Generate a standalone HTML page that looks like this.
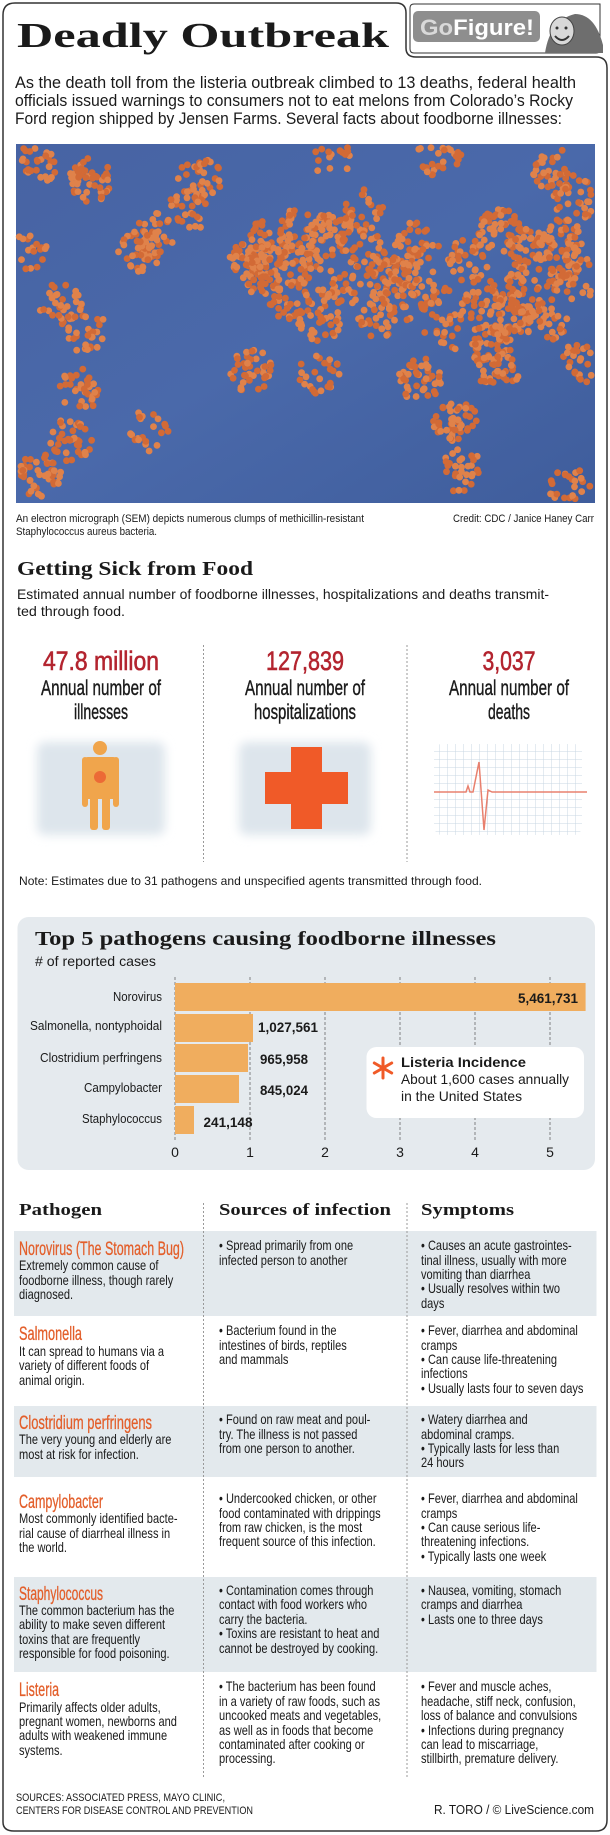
<!DOCTYPE html>
<html><head><meta charset="utf-8"><style>
html,body{margin:0;padding:0;background:#fff}
svg{display:block}
text{font-family:"Liberation Sans",sans-serif;fill:#1a1a1a}
.sf{font-family:"Liberation Serif",serif;font-weight:bold}
.or{fill:#e35f2b}
.red{fill:#b3242f}
</style></head><body>
<svg id="s" width="610" height="1835" viewBox="0 0 610 1835" xmlns="http://www.w3.org/2000/svg">
<defs>
<filter id="bl" x="-20%" y="-20%" width="140%" height="140%"><feGaussianBlur stdDeviation="5"/></filter>
<linearGradient id="ph" x1="0" y1="0" x2="1" y2="1"><stop offset="0" stop-color="#4763a3"/><stop offset="0.5" stop-color="#4a69aa"/><stop offset="1" stop-color="#3f5d9c"/></linearGradient>
<pattern id="grid" width="8" height="8" patternUnits="userSpaceOnUse"><path d="M8 0V8M0 8H8" stroke="#c9d7e3" stroke-width="1" fill="none"/></pattern>
</defs>
<path d="M3,1822 V15 Q3,3 15,3 H396 Q406,3 406,13 V48 Q406,57 416,57 H596 Q607,57 607,68 V1820 Q607,1831 596,1831 H14 Q3,1831 3,1822 Z" fill="#fff" stroke="#333" stroke-width="1.5"/>
<path d="M410,8 Q410,4 414,4 H600 L600,50 Q600,53 596,53 H414 Q410,53 410,49 Z" fill="#fff" stroke="#333" stroke-width="1"/>
<rect x="413" y="11" width="127" height="31" rx="5" fill="#8e8e8e"/>
<text x="420" y="35" font-size="22" font-weight="bold" style="fill:#fff" textLength="114" lengthAdjust="spacingAndGlyphs"><tspan style="fill:#d9d9d9">Go</tspan>Figure!</text>
<path d="M545,53 Q550,20 575,14 Q595,14 603,45 L603,53 Z" fill="#6e6e6e"/>
<ellipse cx="562" cy="31" rx="12" ry="14" fill="#d8d8d8" stroke="#444"/>
<path d="M555,36 Q562,44 569,36" stroke="#333" fill="none" stroke-width="2"/>
<circle cx="557" cy="28" r="1.5" fill="#333"/><circle cx="566" cy="28" r="1.5" fill="#333"/>
<text class="sf" x="17" y="47" font-size="35" textLength="372" lengthAdjust="spacingAndGlyphs" style="font-weight:900">Deadly Outbreak</text>
<g font-size="17">
<text x="15" y="88" textLength="561" lengthAdjust="spacingAndGlyphs">As the death toll from the listeria outbreak climbed to 13 deaths, federal health</text>
<text x="15" y="106" textLength="558" lengthAdjust="spacingAndGlyphs">officials issued warnings to consumers not to eat melons from Colorado’s Rocky</text>
<text x="15" y="124" textLength="547" lengthAdjust="spacingAndGlyphs">Ford region shipped by Jensen Farms. Several facts about foodborne illnesses:</text>
</g>
<rect x="16" y="144" width="579" height="359" fill="url(#ph)"/>
<g id="cells"></g>
<g font-size="11">
<text x="16" y="522" textLength="348" lengthAdjust="spacingAndGlyphs">An electron micrograph (SEM) depicts numerous clumps of methicillin-resistant</text>
<text x="16" y="535" textLength="141" lengthAdjust="spacingAndGlyphs">Staphylococcus aureus bacteria.</text>
<text x="594" y="522" text-anchor="end" textLength="141" lengthAdjust="spacingAndGlyphs">Credit: CDC / Janice Haney Carr</text>
</g>
<text class="sf" x="17" y="575" font-size="20" textLength="236" lengthAdjust="spacingAndGlyphs">Getting Sick from Food</text>
<text x="17" y="599" font-size="14" textLength="532" lengthAdjust="spacingAndGlyphs">Estimated annual number of foodborne illnesses, hospitalizations and deaths transmit-</text>
<text x="17" y="616" font-size="14" textLength="108" lengthAdjust="spacingAndGlyphs">ted through food.</text>
<line x1="203.5" y1="645" x2="203.5" y2="862" stroke="#999" stroke-dasharray="2,2"/>
<line x1="407" y1="645" x2="407" y2="862" stroke="#999" stroke-dasharray="2,2"/>
<g font-size="27" text-anchor="middle" style="stroke:#b3242f;stroke-width:0.6">
<text class="red" x="101" y="670" textLength="116" lengthAdjust="spacingAndGlyphs">47.8 million</text>
<text class="red" x="305" y="670" textLength="78" lengthAdjust="spacingAndGlyphs">127,839</text>
<text class="red" x="509" y="670" textLength="53" lengthAdjust="spacingAndGlyphs">3,037</text>
</g>
<g font-size="21" text-anchor="middle" style="stroke:#1a1a1a;stroke-width:0.4">
<text x="101" y="695" textLength="120" lengthAdjust="spacingAndGlyphs">Annual number of</text>
<text x="101" y="719" textLength="54" lengthAdjust="spacingAndGlyphs">illnesses</text>
<text x="305" y="695" textLength="120" lengthAdjust="spacingAndGlyphs">Annual number of</text>
<text x="305" y="719" textLength="102" lengthAdjust="spacingAndGlyphs">hospitalizations</text>
<text x="509" y="695" textLength="120" lengthAdjust="spacingAndGlyphs">Annual number of</text>
<text x="509" y="719" textLength="42" lengthAdjust="spacingAndGlyphs">deaths</text>
</g>
<rect x="37" y="742" width="128" height="93" rx="8" fill="#dde5ec" filter="url(#bl)"/>
<rect x="239" y="742" width="132" height="93" rx="8" fill="#dde5ec" filter="url(#bl)"/>
<rect x="434" y="744" width="148" height="91" rx="8" fill="url(#grid)"/>
<g fill="#f0a54c">
<circle cx="100" cy="748" r="7"/>
<rect x="82" y="757" width="37" height="42" rx="6"/>
<rect x="82" y="757" width="6" height="50" rx="3"/>
<rect x="113" y="757" width="6" height="50" rx="3"/>
<rect x="90" y="790" width="8" height="40" rx="3"/>
<rect x="102" y="790" width="8" height="40" rx="3"/>
</g>
<circle cx="100" cy="777" r="6" fill="#ec6a36"/>
<rect x="291" y="747" width="31" height="82" fill="#f05a28"/>
<rect x="265" y="772" width="83" height="32" fill="#f05a28"/>
<polyline points="434,792 466,792 468,786 470,792 473,792 479,762 484,830 488,790 492,792 587,792" fill="none" stroke="#e8806e" stroke-width="1.5"/>
<text x="19" y="885" font-size="12" textLength="463" lengthAdjust="spacingAndGlyphs">Note: Estimates due to 31 pathogens and unspecified agents transmitted through food.</text>
<rect x="17.5" y="917" width="577.5" height="253" rx="11" fill="#e5eaee"/>
<text class="sf" x="35" y="945" font-size="20" textLength="461" lengthAdjust="spacingAndGlyphs">Top 5 pathogens causing foodborne illnesses</text>
<text x="35" y="966" font-size="14" textLength="121" lengthAdjust="spacingAndGlyphs"># of reported cases</text>
<g stroke="#666" stroke-dasharray="3,2" stroke-width="0.8">
<line x1="175" y1="977" x2="175" y2="1140"/><line x1="250" y1="977" x2="250" y2="1140"/><line x1="325" y1="977" x2="325" y2="1140"/><line x1="400" y1="977" x2="400" y2="1140"/><line x1="475" y1="977" x2="475" y2="1140"/><line x1="550" y1="977" x2="550" y2="1140"/>
</g>
<g fill="#f0ad5e">
<rect x="175" y="983" width="410.6" height="28"/>
<rect x="175" y="1014" width="78" height="28"/>
<rect x="175" y="1044" width="73" height="28"/>
<rect x="175" y="1075" width="64" height="28"/>
<rect x="175" y="1106" width="19" height="28"/>
</g>
<g font-size="13" text-anchor="end">
<text x="162" y="1001" textLength="49" lengthAdjust="spacingAndGlyphs">Norovirus</text>
<text x="162" y="1030" textLength="132" lengthAdjust="spacingAndGlyphs">Salmonella, nontyphoidal</text>
<text x="162" y="1062" textLength="122" lengthAdjust="spacingAndGlyphs">Clostridium perfringens</text>
<text x="162" y="1092" textLength="78" lengthAdjust="spacingAndGlyphs">Campylobacter</text>
<text x="162" y="1123" textLength="80" lengthAdjust="spacingAndGlyphs">Staphylococcus</text>
</g>
<g font-size="14" font-weight="bold">
<text x="578" y="1003" text-anchor="end" textLength="60" lengthAdjust="spacingAndGlyphs">5,461,731</text>
<text x="258" y="1032" textLength="60" lengthAdjust="spacingAndGlyphs">1,027,561</text>
<text x="260" y="1064" textLength="48" lengthAdjust="spacingAndGlyphs">965,958</text>
<text x="260" y="1095" textLength="48" lengthAdjust="spacingAndGlyphs">845,024</text>
<text x="203.5" y="1127" textLength="49" lengthAdjust="spacingAndGlyphs">241,148</text>
</g>
<g font-size="14" text-anchor="middle">
<text x="175" y="1157">0</text><text x="250" y="1157">1</text><text x="325" y="1157">2</text><text x="400" y="1157">3</text><text x="475" y="1157">4</text><text x="550" y="1157">5</text>
</g>
<rect x="366.5" y="1047" width="217.5" height="71" rx="10" fill="#fff"/>
<g stroke="#f05a28" stroke-width="3" stroke-linecap="round">
<line x1="383" y1="1058" x2="383" y2="1078"/><line x1="374.3" y1="1063" x2="391.7" y2="1073"/><line x1="374.3" y1="1073" x2="391.7" y2="1063"/>
</g>
<text x="401" y="1067" font-size="14" font-weight="bold" textLength="125" lengthAdjust="spacingAndGlyphs">Listeria Incidence</text>
<text x="401" y="1084" font-size="14" textLength="168" lengthAdjust="spacingAndGlyphs">About 1,600 cases annually</text>
<text x="401" y="1101" font-size="14" textLength="121" lengthAdjust="spacingAndGlyphs">in the United States</text>
<g fill="#e3e9ed">
<rect x="14" y="1231" width="582.5" height="85"/>
<rect x="14" y="1406" width="582.5" height="71"/>
<rect x="14" y="1577" width="582.5" height="95"/>
</g>
<line x1="203.5" y1="1203" x2="203.5" y2="1777" stroke="#999" stroke-dasharray="2,2"/>
<line x1="407" y1="1203" x2="407" y2="1777" stroke="#999" stroke-dasharray="2,2"/>
<g font-size="17">
<text class="sf" x="19" y="1215" textLength="83" lengthAdjust="spacingAndGlyphs">Pathogen</text>
<text class="sf" x="219" y="1215" textLength="172" lengthAdjust="spacingAndGlyphs">Sources of infection</text>
<text class="sf" x="421" y="1215" textLength="93" lengthAdjust="spacingAndGlyphs">Symptoms</text>
</g>
<g font-size="19" style="stroke:#e35f2b;stroke-width:0.3">
<text class="or" x="19" y="1255" textLength="165" lengthAdjust="spacingAndGlyphs">Norovirus (The Stomach Bug)</text>
<text class="or" x="19" y="1340" textLength="63" lengthAdjust="spacingAndGlyphs">Salmonella</text>
<text class="or" x="19" y="1429" textLength="133" lengthAdjust="spacingAndGlyphs">Clostridium perfringens</text>
<text class="or" x="19" y="1508" textLength="84" lengthAdjust="spacingAndGlyphs">Campylobacter</text>
<text class="or" x="19" y="1600" textLength="84" lengthAdjust="spacingAndGlyphs">Staphylococcus</text>
<text class="or" x="19" y="1696" textLength="40" lengthAdjust="spacingAndGlyphs">Listeria</text>
</g>
<g font-size="13.5">
<g transform="translate(19,0) scale(0.82,1)">
<text x="0" y="1270">Extremely common cause of</text>
<text x="0" y="1285">foodborne illness, though rarely</text>
<text x="0" y="1299">diagnosed.</text>
<text x="0" y="1356">It can spread to humans via a</text>
<text x="0" y="1370">variety of different foods of</text>
<text x="0" y="1385">animal origin.</text>
<text x="0" y="1444">The very young and elderly are</text>
<text x="0" y="1459">most at risk for infection.</text>
<text x="0" y="1523">Most commonly identified bacte-</text>
<text x="0" y="1538">rial cause of diarrheal illness in</text>
<text x="0" y="1552">the world.</text>
<text x="0" y="1615">The common bacterium has the</text>
<text x="0" y="1629">ability to make seven different</text>
<text x="0" y="1644">toxins that are frequently</text>
<text x="0" y="1658">responsible for food poisoning.</text>
<text x="0" y="1712">Primarily affects older adults,</text>
<text x="0" y="1726">pregnant women, newborns and</text>
<text x="0" y="1740">adults with weakened immune</text>
<text x="0" y="1755">systems.</text>
</g>
<g transform="translate(219,0) scale(0.82,1)">
<text x="0" y="1250">• Spread primarily from one</text>
<text x="0" y="1265">infected person to another</text>
<text x="0" y="1335">• Bacterium found in the</text>
<text x="0" y="1350">intestines of birds, reptiles</text>
<text x="0" y="1364">and mammals</text>
<text x="0" y="1424">• Found on raw meat and poul-</text>
<text x="0" y="1439">try. The illness is not passed</text>
<text x="0" y="1453">from one person to another.</text>
<text x="0" y="1503">• Undercooked chicken, or other</text>
<text x="0" y="1518">food contaminated with drippings</text>
<text x="0" y="1532">from raw chicken, is the most</text>
<text x="0" y="1546">frequent source of this infection.</text>
<text x="0" y="1595">• Contamination comes through</text>
<text x="0" y="1609">contact with food workers who</text>
<text x="0" y="1624">carry the bacteria.</text>
<text x="0" y="1638">• Toxins are resistant to heat and</text>
<text x="0" y="1653">cannot be destroyed by cooking.</text>
<text x="0" y="1691">• The bacterium has been found</text>
<text x="0" y="1706">in a variety of raw foods, such as</text>
<text x="0" y="1720">uncooked meats and vegetables,</text>
<text x="0" y="1735">as well as in foods that become</text>
<text x="0" y="1749">contaminated after cooking or</text>
<text x="0" y="1763">processing.</text>
</g>
<g transform="translate(421,0) scale(0.82,1)">
<text x="0" y="1250">• Causes an acute gastrointes-</text>
<text x="0" y="1265">tinal illness, usually with more</text>
<text x="0" y="1279">vomiting than diarrhea</text>
<text x="0" y="1293">• Usually resolves within two</text>
<text x="0" y="1308">days</text>
<text x="0" y="1335">• Fever, diarrhea and abdominal</text>
<text x="0" y="1350">cramps</text>
<text x="0" y="1364">• Can cause life-threatening</text>
<text x="0" y="1378">infections</text>
<text x="0" y="1393">• Usually lasts four to seven days</text>
<text x="0" y="1424">• Watery diarrhea and</text>
<text x="0" y="1439">abdominal cramps.</text>
<text x="0" y="1453">• Typically lasts for less than</text>
<text x="0" y="1467">24 hours</text>
<text x="0" y="1503">• Fever, diarrhea and abdominal</text>
<text x="0" y="1518">cramps</text>
<text x="0" y="1532">• Can cause serious life-</text>
<text x="0" y="1546">threatening infections.</text>
<text x="0" y="1561">• Typically lasts one week</text>
<text x="0" y="1595">• Nausea, vomiting, stomach</text>
<text x="0" y="1609">cramps and diarrhea</text>
<text x="0" y="1624">• Lasts one to three days</text>
<text x="0" y="1691">• Fever and muscle aches,</text>
<text x="0" y="1706">headache, stiff neck, confusion,</text>
<text x="0" y="1720">loss of balance and convulsions</text>
<text x="0" y="1735">• Infections during pregnancy</text>
<text x="0" y="1749">can lead to miscarriage,</text>
<text x="0" y="1763">stillbirth, premature delivery.</text>
</g>
</g>
<g font-size="11">
<text x="16" y="1801" textLength="209" lengthAdjust="spacingAndGlyphs">SOURCES: ASSOCIATED PRESS, MAYO CLINIC,</text>
<text x="16" y="1814" textLength="237" lengthAdjust="spacingAndGlyphs">CENTERS FOR DISEASE CONTROL AND PREVENTION</text>
</g>
<text x="594" y="1814" font-size="13" text-anchor="end" textLength="160" lengthAdjust="spacingAndGlyphs">R. TORO / © LiveScience.com</text>
</svg>
<script>
(function(){
var g=document.getElementById('cells'),s=7;
function r(){s=(s*16807)%2147483647;return s/2147483647;}
var c=[[30,255],[60,305],[85,330],[140,250],[155,235],[190,210],[250,260],[265,275],[300,265],[330,235],[365,210],[385,280],[360,245],[420,240],[445,330],[470,260],[500,230],[530,250],[560,270],[575,200],[555,170],[520,290],[490,345],[500,370],[420,380],[455,420],[250,370],[320,375],[80,390],[70,440],[40,475],[150,430],[460,470],[570,490],[90,180],[40,160],[330,155],[440,155],[290,300],[400,300],[545,320],[585,360],[200,180],[340,290],[320,320],[380,320],[430,290],[480,300],[510,320],[560,240],[580,280],[300,230],[270,240],[400,260]];
var h='';
c.forEach(function(p){var n=20+Math.floor(r()*30);for(var i=0;i<n;i++){var a=r()*6.283,d=Math.sqrt(r())*22;var x=p[0]+Math.cos(a)*d,y=p[1]+Math.sin(a)*d;if(x<19||x>592||y<147||y>500)continue;h+='<circle cx="'+x.toFixed(1)+'" cy="'+y.toFixed(1)+'" r="3.4" fill="'+(r()<0.5?'#d26a36':'#e0824a')+'"/>';}});
g.innerHTML=h;
})();
</script>
</body></html>
